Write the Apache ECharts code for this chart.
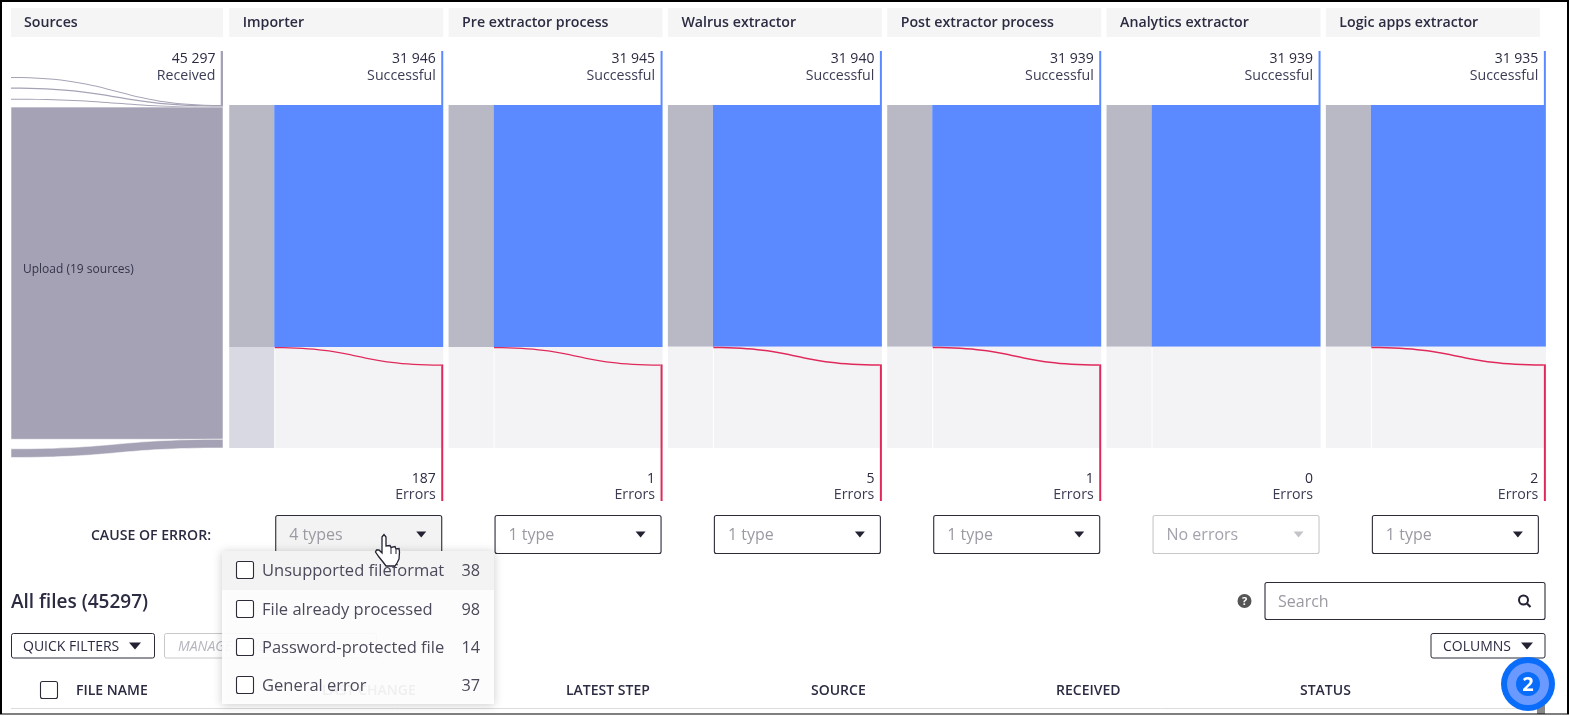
<!DOCTYPE html>
<html>
<head>
<meta charset="utf-8">
<style>
    html, body {margin: 0; padding: 0; background: #fff;}
    #main {width: 1569px; height: 716px;}
</style>
</head>
<body>
<div id="main"></div>
<script src="https://cdn.jsdelivr.net/npm/echarts@6/dist/echarts.min.js"></script>
<script>
    var totalFiles = 45297;
    var columnNames = ['Sources', 'Importer', 'Pre extractor process', 'Walrus extractor', 'Post extractor process', 'Analytics extractor', 'Logic apps extractor'];
    var stepSuccess = [31946, 31945, 31940, 31939, 31939, 31935];
    var stepErrors = [187, 1, 5, 1, 0, 2];
    var stepCauses = ['4 types', '1 type', '1 type', '1 type', 'No errors', '1 type'];
    var sourceNames = ['', '', '', 'Upload (19 sources)', ''];
    var sourceFiles = [50, 180, 50, 43867, 1150];
    var causeNames = ['Unsupported fileformat', 'File already processed', 'Password-protected file', 'General error'];
    var causeCounts = [38, 98, 14, 37];
    var tableColumns = ['FILE NAME', 'LAST CHANGE', 'LATEST STEP', 'SOURCE', 'RECEIVED', 'STATUS'];

    // layout only, in pixels
    var sourceDrop = [-28, -18, -8, 0, 9.5];
    var tableColumnX = [76, 322, 566, 811, 1056, 1300];
    var causeRowY = [570, 609, 647, 685];

    var FONT = "'Open Sans'";
    var INK = '#2b2b42';
    var BLUE = '#5b89ff';
    var RED = '#e0285a';
    var SOURCE_GREY = '#a5a2b5';

    function thousands(n) {
        return String(n).replace(/\B(?=(\d{3})+$)/g, ' ');
    }
    function txt(text, x, y, font, fill, align) {
        return {
            type: 'text',
            style: {text: text, x: x, y: y, font: font + ' ' + FONT, fill: fill || INK, textAlign: align || 'left', textVerticalAlign: 'middle'}
        };
    }
    function box(x, y, w, h, fill, stroke, lineWidth, r) {
        return {
            type: 'rect',
            shape: {x: x, y: y, width: w, height: h, r: r || 0},
            style: {fill: fill || 'none', stroke: stroke || 'none', lineWidth: lineWidth || 0}
        };
    }
    function tri(cx, cy, size, fill) {
        return {
            type: 'polygon',
            shape: {points: [[cx - size, cy - size * 0.6], [cx + size, cy - size * 0.6], [cx, cy + size * 0.6]]},
            style: {fill: fill || '#222233'}
        };
    }
    function flowPath(x0, y0, x1, y1, t0, t1) {
        var xm = (x0 + x1) / 2;
        return 'M' + x0 + ' ' + y0 + 'C' + xm + ' ' + y0 + ' ' + xm + ' ' + y1 + ' ' + x1 + ' ' + y1 +
            'L' + x1 + ' ' + (y1 + t1) + 'C' + xm + ' ' + (y1 + t1) + ' ' + xm + ' ' + (y0 + t0) + ' ' + x0 + ' ' + (y0 + t0) + 'Z';
    }

    function renderSource(params, api) {
        var i = params.dataIndex;
        var value = api.value(1);
        var before = 0;
        for (var k = 0; k < i; k++) before += sourceFiles[k];
        var right = 223;
        var y1 = api.coord([0, before])[1];
        var t = Math.max(1, api.coord([0, before + value])[1] - y1);
        var children = [{
            type: 'path',
            shape: {pathData: flowPath(11, y1 + sourceDrop[i], right, y1, t, t)},
            style: {fill: SOURCE_GREY, stroke: i >= 3 ? 'rgba(255,255,255,0.55)' : 'none', lineWidth: i >= 3 ? 1 : 0}
        }];
        if (sourceNames[i]) {
            children.push(txt(sourceNames[i], 23, y1 + t / 2 - 3.5, '12px', '#33334a'));
        }
        if (i === 0) {
            children.push(box(11, 8, 212, 29, '#f5f5f5'));
            children.push(txt(columnNames[0], 24, 23, '600 14.2px', INK));
            children.push(box(220.7, y1 - 54, 2.3, 54, SOURCE_GREY));
            children.push(txt(thousands(totalFiles), 215.5, 59, '14px', INK, 'right'));
            children.push(txt('Received', 215.5, 75.5, '14.2px', '#3c3c55', 'right'));
        }
        return {type: 'group', children: children};
    }

    function renderStep(params, api) {
        var i = params.dataIndex;
        var col = api.value(0);
        var success = api.value(1);
        var errors = api.value(2);
        var size = api.size([1, 0])[0];
        var left = api.coord([col, 0])[0] - size / 2;
        var extra = col === columnNames.length - 1 ? 6 : 0;
        var right = left + 214 + extra;
        var nodeRight = left + 45;
        var top = api.coord([col, 0])[1];
        var mid = api.coord([col, success])[1];
        var bottom = api.coord([col, totalFiles])[1];
        var textRight = right - 7.5;
        var cause = stepCauses[i];
        var disabled = errors === 0;
        var ddLeft = left + 46;

        var children = [
            box(left, 8, 214, 29, '#f5f5f5'),
            txt(columnNames[col], left + 13.5, 23, '600 14.2px', INK),
            box(left, top, 45, mid - top, '#b9b9c6'),
            box(left, mid, 45, bottom - mid, i === 0 ? '#d8d9e2' : '#f3f3f6'),
            box(nodeRight, top, right - nodeRight, mid - top, BLUE),
            box(nodeRight + 1, mid, right - nodeRight - 1, bottom - mid, '#f3f3f6'),
            box(right - 2, top - 54, 2, 54, BLUE),
            txt(thousands(success), textRight, 59, '14px', INK, 'right'),
            txt('Successful', textRight, 75.5, '14.2px', '#3c3c55', 'right'),
            txt(thousands(errors), textRight, 479, '14px', INK, 'right'),
            txt('Errors', textRight, 495, '14.2px', '#3c3c55', 'right'),
            box(ddLeft + 0.5, 515.5, 166, 38, i === 0 ? '#f3f3f3' : '#fff', disabled ? '#c8c8c8' : '#2b2b3a', 1.1, 2),
            txt(cause, ddLeft + 14, 535.5, '16px', disabled ? '#a3a3ad' : '#9a9aa3'),
            tri(ddLeft + 146, 534.5, 5, disabled ? '#c4c4c8' : '#222233')
        ];
        if (errors > 0) {
            var t = Math.max(1.4, api.coord([col, success + errors])[1] - mid);
            children.push({
                type: 'path',
                shape: {pathData: flowPath(nodeRight + 0.5, mid, right - 2, mid + 17.5, t, t)},
                style: {fill: RED}
            });
            children.push(box(right - 2, mid + 17.5, 2, 501 - mid - 17.5, RED));
        }
        return {type: 'group', children: children};
    }

    // page furniture around the chart
    var ui = [];
    ui.push(txt('CAUSE OF ERROR:', 211, 535.5, '600 14.1px', INK, 'right'));
    ui.push(txt('All files (' + totalFiles + ')', 11, 603, '600 19px', INK));
    ui.push(box(11.5, 633.5, 143, 24.5, '#fff', '#2b2b3a', 1, 2));
    ui.push(txt('QUICK FILTERS', 23, 647.5, '14px', INK));
    ui.push(tri(135, 646, 6));
    ui.push(box(164.5, 633.5, 212, 24.5, '#fff', '#c8c8c8', 1, 2));
    ui.push(txt('MANAGE SAVED', 178, 647.5, 'italic 14px', '#b5b5bd'));
    ui.push(box(1431, 633.5, 114, 24.5, '#fff', '#2b2b3a', 1, 2));
    ui.push(txt('COLUMNS', 1443, 647.5, '14px', INK));
    ui.push(tri(1527, 646, 6));
    ui.push({type: 'circle', shape: {cx: 1244.5, cy: 601, r: 7}, style: {fill: '#555'}});
    ui.push(txt('?', 1244.5, 601.5, 'bold 11px', '#fff', 'center'));
    ui.push(box(1265, 582.5, 280, 37, '#fff', '#2b2b3a', 1.1, 2));
    ui.push(txt('Search', 1278, 602, '16px', '#9a9aa3'));
    ui.push({type: 'circle', shape: {cx: 1523.5, cy: 600, r: 4.5}, style: {fill: 'none', stroke: '#222233', lineWidth: 2}});
    ui.push({type: 'line', shape: {x1: 1527, y1: 603.5, x2: 1530.5, y2: 607}, style: {stroke: '#222233', lineWidth: 2.2}});
    ui.push(box(40.5, 681.5, 17, 17, '#fff', '#2b2b3a', 1.1, 2));
    tableColumns.forEach(function (name, i) {
        ui.push(txt(name, tableColumnX[i], 691.5, '600 14px', INK));
    });
    ui.push({type: 'line', shape: {x1: 11, y1: 708.5, x2: 1545, y2: 708.5}, style: {stroke: '#dcdcdc', lineWidth: 1}});

    // open dropdown, slightly see-through
    var popup = box(222, 551, 272, 153, 'rgba(255,255,255,0.93)');
    popup.style.shadowBlur = 9;
    popup.style.shadowColor = 'rgba(0,0,0,0.22)';
    popup.style.shadowOffsetY = 1;
    ui.push(popup);
    ui.push(box(222, 551, 272, 39, '#f3f3f3'));
    causeNames.forEach(function (name, i) {
        var y = causeRowY[i];
        ui.push(box(236.5, y - 8.5, 17, 17, '#fff', '#2b2b3a', 1.1, 2));
        ui.push(txt(name, 262, y + 1.5, '16.5px', '#4a4a5a'));
        ui.push(txt(String(causeCounts[i]), 480, y + 1.5, '16.3px', '#4a4a5a', 'right'));
    });

    // hand cursor
    ui.push({
        type: 'polygon',
        shape: {points: [[382, 537], [384, 534.5], [386, 537], [386, 546], [390, 545.5], [391, 547.5], [395, 546.5], [396, 549], [399, 548.5], [399.5, 552], [399, 559], [397, 563], [395, 566], [386, 566], [383, 562], [379, 557], [375.5, 552], [376.5, 550], [379, 550], [382, 553]]},
        style: {fill: '#fff', stroke: '#222233', lineWidth: 1.3}
    });
    ui.push({type: 'line', shape: {x1: 391, y1: 548, x2: 391, y2: 554}, style: {stroke: '#222233', lineWidth: 1}});
    ui.push({type: 'line', shape: {x1: 396, y1: 549.5, x2: 396, y2: 554}, style: {stroke: '#222233', lineWidth: 1}});

    // scrollbar stub, help badge and outer frame
    ui.push(box(1537, 705, 8, 10, '#888'));
    ui.push({type: 'circle', shape: {cx: 1528, cy: 684, r: 27}, style: {fill: '#0a6dfa'}});
    ui.push({type: 'circle', shape: {cx: 1528, cy: 684, r: 21}, style: {fill: '#6a9aff'}});
    ui.push({type: 'circle', shape: {cx: 1528, cy: 684, r: 12}, style: {fill: '#0a6dfa'}});
    ui.push(txt('2', 1528, 685, 'bold 20px', '#fff', 'center'));
    ui.push(box(1, 1, 1567, 713.5, 'none', '#000', 2));
    ui.push(box(0, 714.5, 1569, 1.5, '#fff'));
    ui.forEach(function (el) {
        el.z = 100;
    });

    var myChart = echarts.init(document.getElementById('main'));
    myChart.setOption({
        animation: false,
        backgroundColor: '#fff',
        grid: {left: 9.9, top: 105, width: 1535.3, height: 343},
        xAxis: {type: 'category', data: columnNames, show: false},
        yAxis: {type: 'value', inverse: true, min: 0, max: totalFiles, show: false},
        series: [
            {
                type: 'custom',
                renderItem: renderSource,
                encode: {x: 0, y: 1},
                data: sourceFiles.map(function (v) {
                    return [0, v];
                })
            },
            {
                type: 'custom',
                renderItem: renderStep,
                encode: {x: 0, y: 1},
                data: stepSuccess.map(function (v, i) {
                    return [i + 1, v, stepErrors[i]];
                })
            }
        ],
        graphic: {elements: ui}
    });
</script>
</body>
</html>
